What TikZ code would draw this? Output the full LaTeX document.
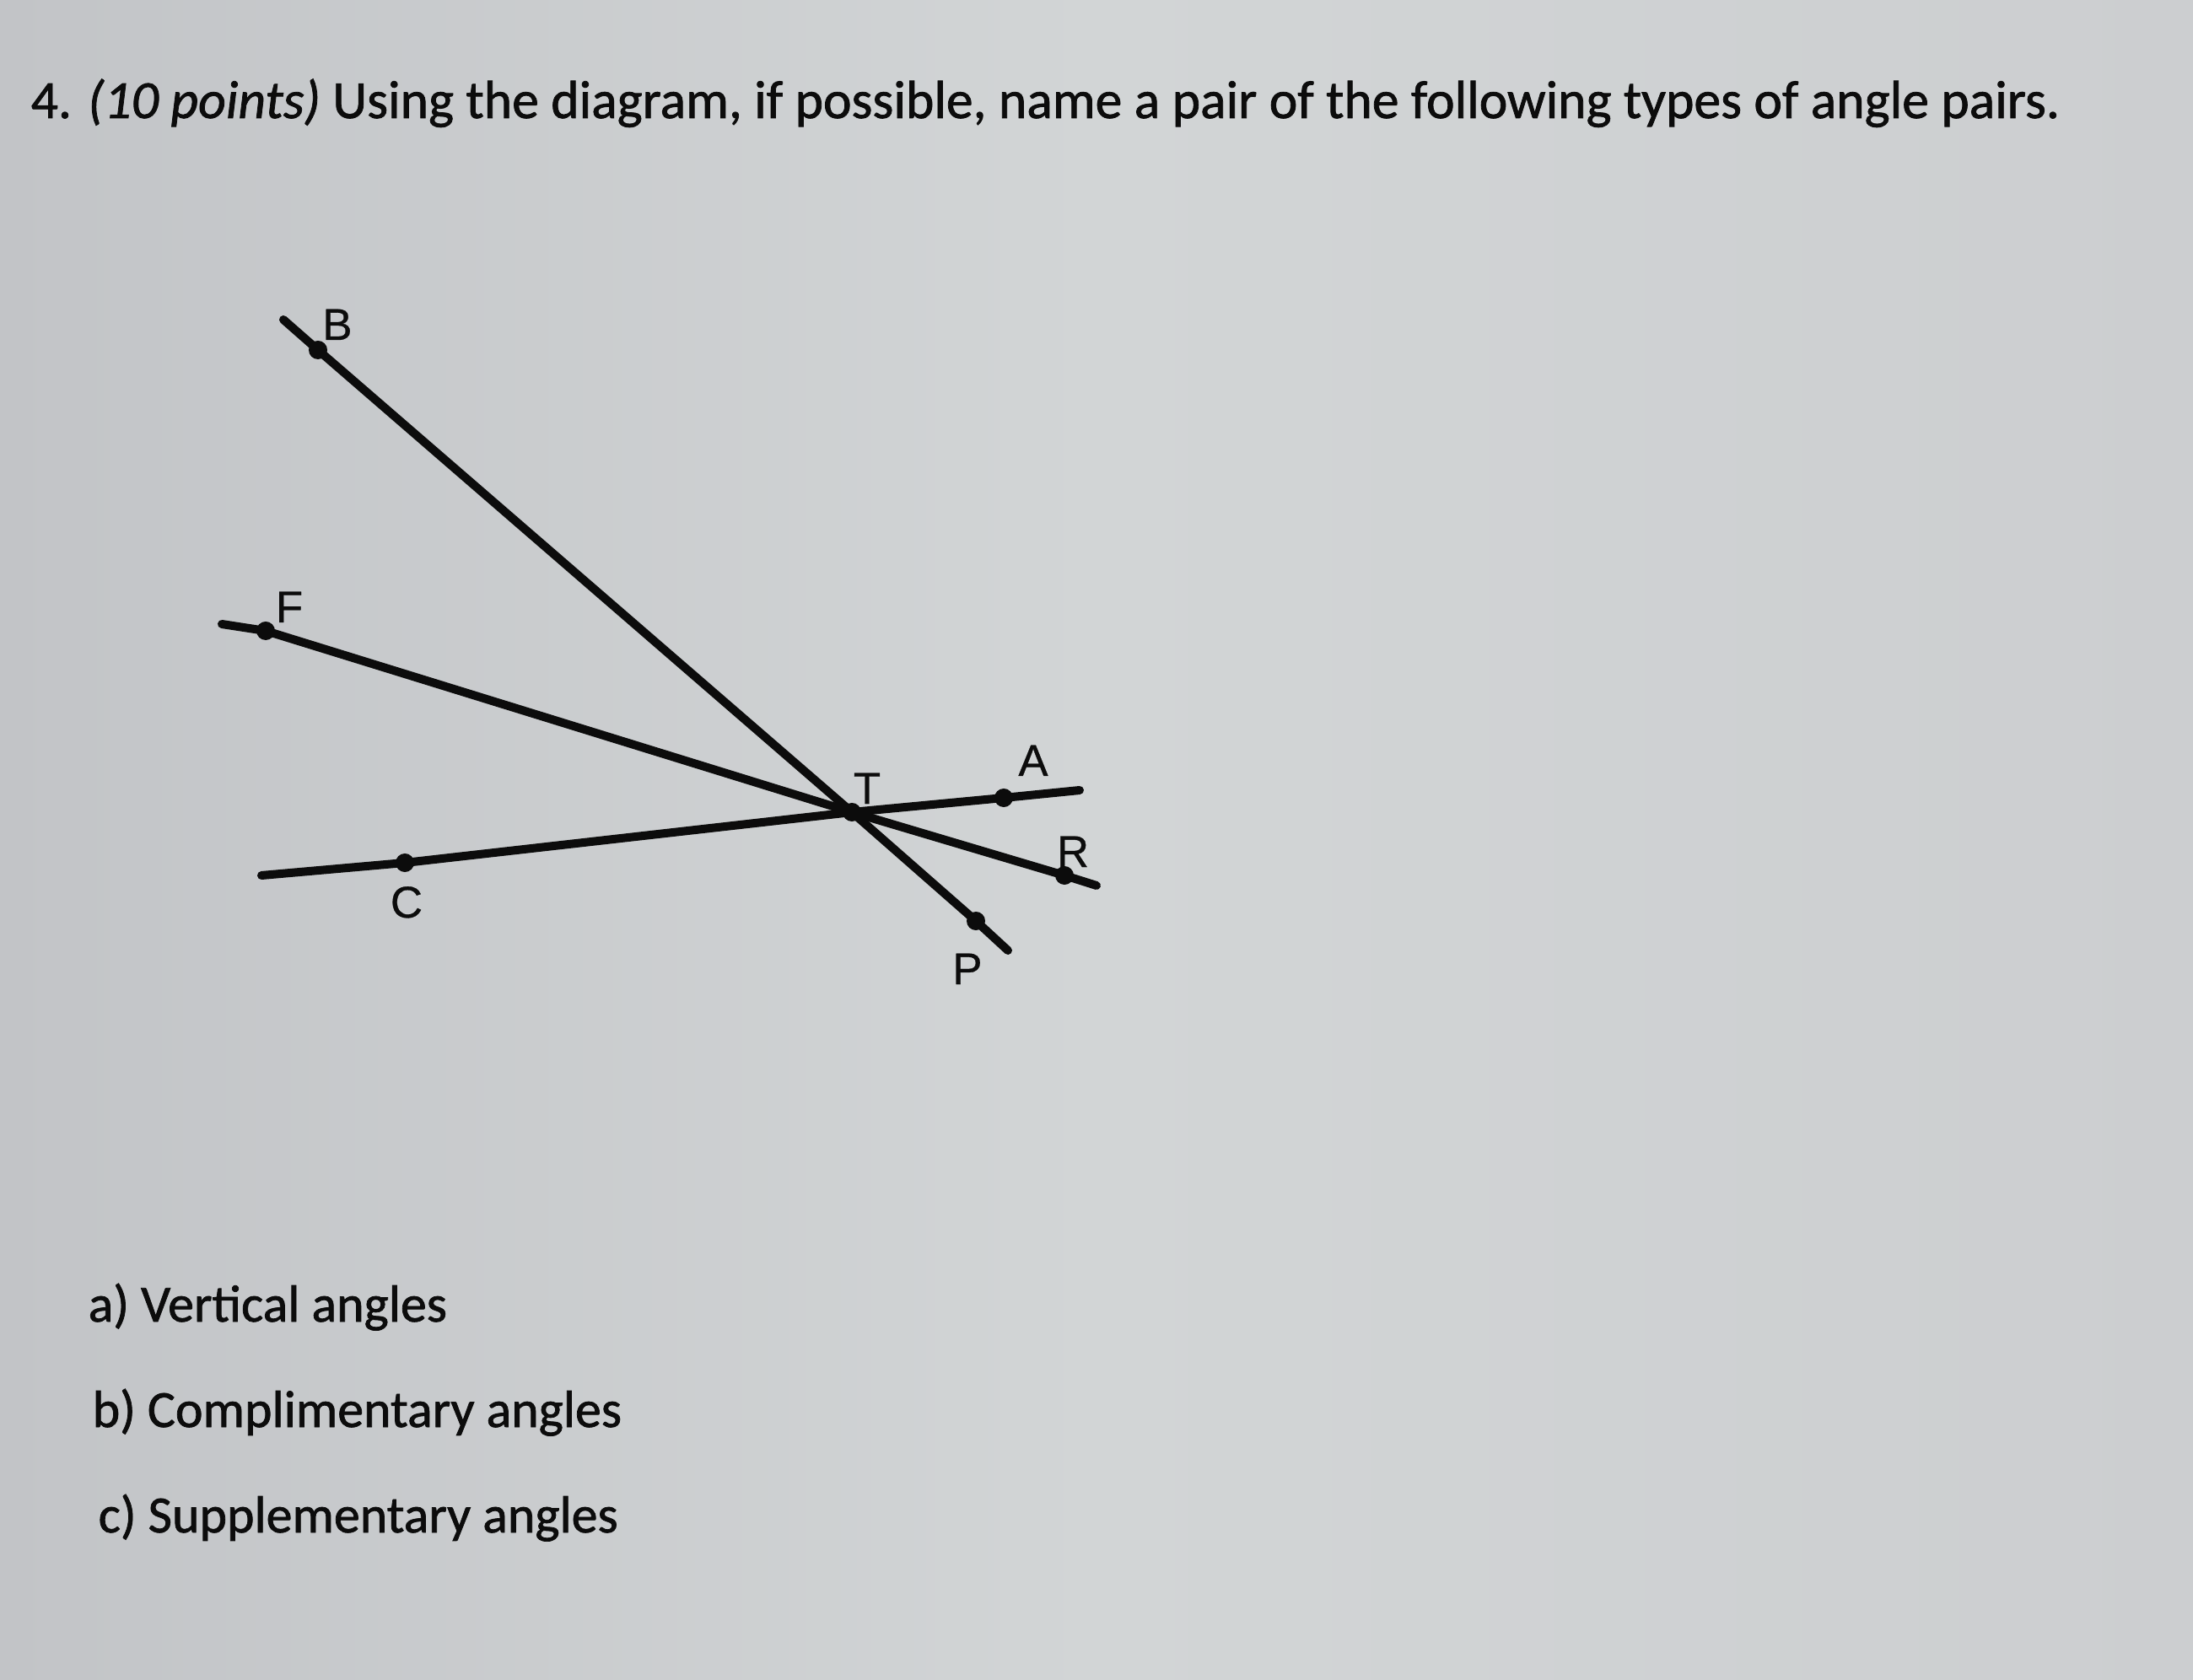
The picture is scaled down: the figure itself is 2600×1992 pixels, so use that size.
\documentclass[tikz,border=0pt]{standalone}
\usepackage{fontspec}
\setmainfont[FakeBold=1.2]{Carlito}
\newfontfamily\lblfont[FakeBold=0.6]{Liberation Sans}
\definecolor{bgc}{RGB}{210,213,214}
\definecolor{bgd}{RGB}{194,196,199}
\definecolor{bge}{RGB}{204,206,208}
\definecolor{ink}{RGB}{12,12,12}
\tikzset{
  seg/.style={line width=0.1cm, draw=ink, line cap=round},
  pt/.style={circle, fill=ink, inner sep=0pt, minimum size=0.22cm},
  lbl/.style={font=\lblfont\fontsize{15}{18}\selectfont, inner sep=0pt, anchor=base, text=ink},
  txt/.style={font=\fontsize{17.6}{21}\selectfont, inner sep=0pt, anchor=base west, text=ink},
  ttl/.style={font=\fontsize{18.1}{22}\selectfont, inner sep=0pt, anchor=base west, text=ink}
}
\begin{document}
\begin{tikzpicture}[x=0.01cm,y=-0.01cm]
\useasboundingbox (0,0) rectangle (2600,1992);
\shade[left color=bgd, right color=bge, middle color=bgc] (0,0) rectangle (2600,1992);
% title
\node[ttl] (title) at (36,140) {4. \textit{(10 points)} Using the diagram, if possible, name a pair of the following types of angle pairs.};
% points
\node[pt] (B) at (377,415) {};
\node[pt] (F) at (315,748) {};
\node[pt] (T) at (1010,963) {};
\node[pt] (A) at (1190,946) {};
\node[pt] (R) at (1262,1038) {};
\node[pt] (P) at (1157,1092) {};
\node[pt] (C) at (480,1023) {};
% line ends
\coordinate (Bend) at (336,379);
\coordinate (Pend) at (1195,1127);
\coordinate (Fend) at (263,740);
\coordinate (Rend) at (1300,1050);
\coordinate (Cend) at (310,1038);
\coordinate (Aend) at (1280,937);
% lines
\draw[seg] (Bend) -- (B.center) -- (T.center) -- (P.center) -- (Pend);
\draw[seg] (Fend) -- (F.center) -- (T.center) -- (R.center) -- (Rend);
\draw[seg] (Cend) -- (C.center) -- (T.center) -- (A.center) -- (Aend);
% labels
\node[lbl] (Bl) at (400,403) {B};
\node[lbl] (Fl) at (343,738) {F};
\node[lbl] (Tl) at (1028,953) {T};
\node[lbl] (Al) at (1225,920) {A};
\node[lbl] (Rl) at (1272,1028) {R};
\node[lbl] (Pl) at (1147,1167) {P};
\node[lbl] (Cl) at (482,1088) {C};
% questions
\node[txt] (qa) at (104,1567) {a) Vertical angles};
\node[txt] (qb) at (109,1692) {b) Complimentary angles};
\node[txt] (qc) at (116,1817) {c) Supplementary angles};
\end{tikzpicture}
\end{document}
